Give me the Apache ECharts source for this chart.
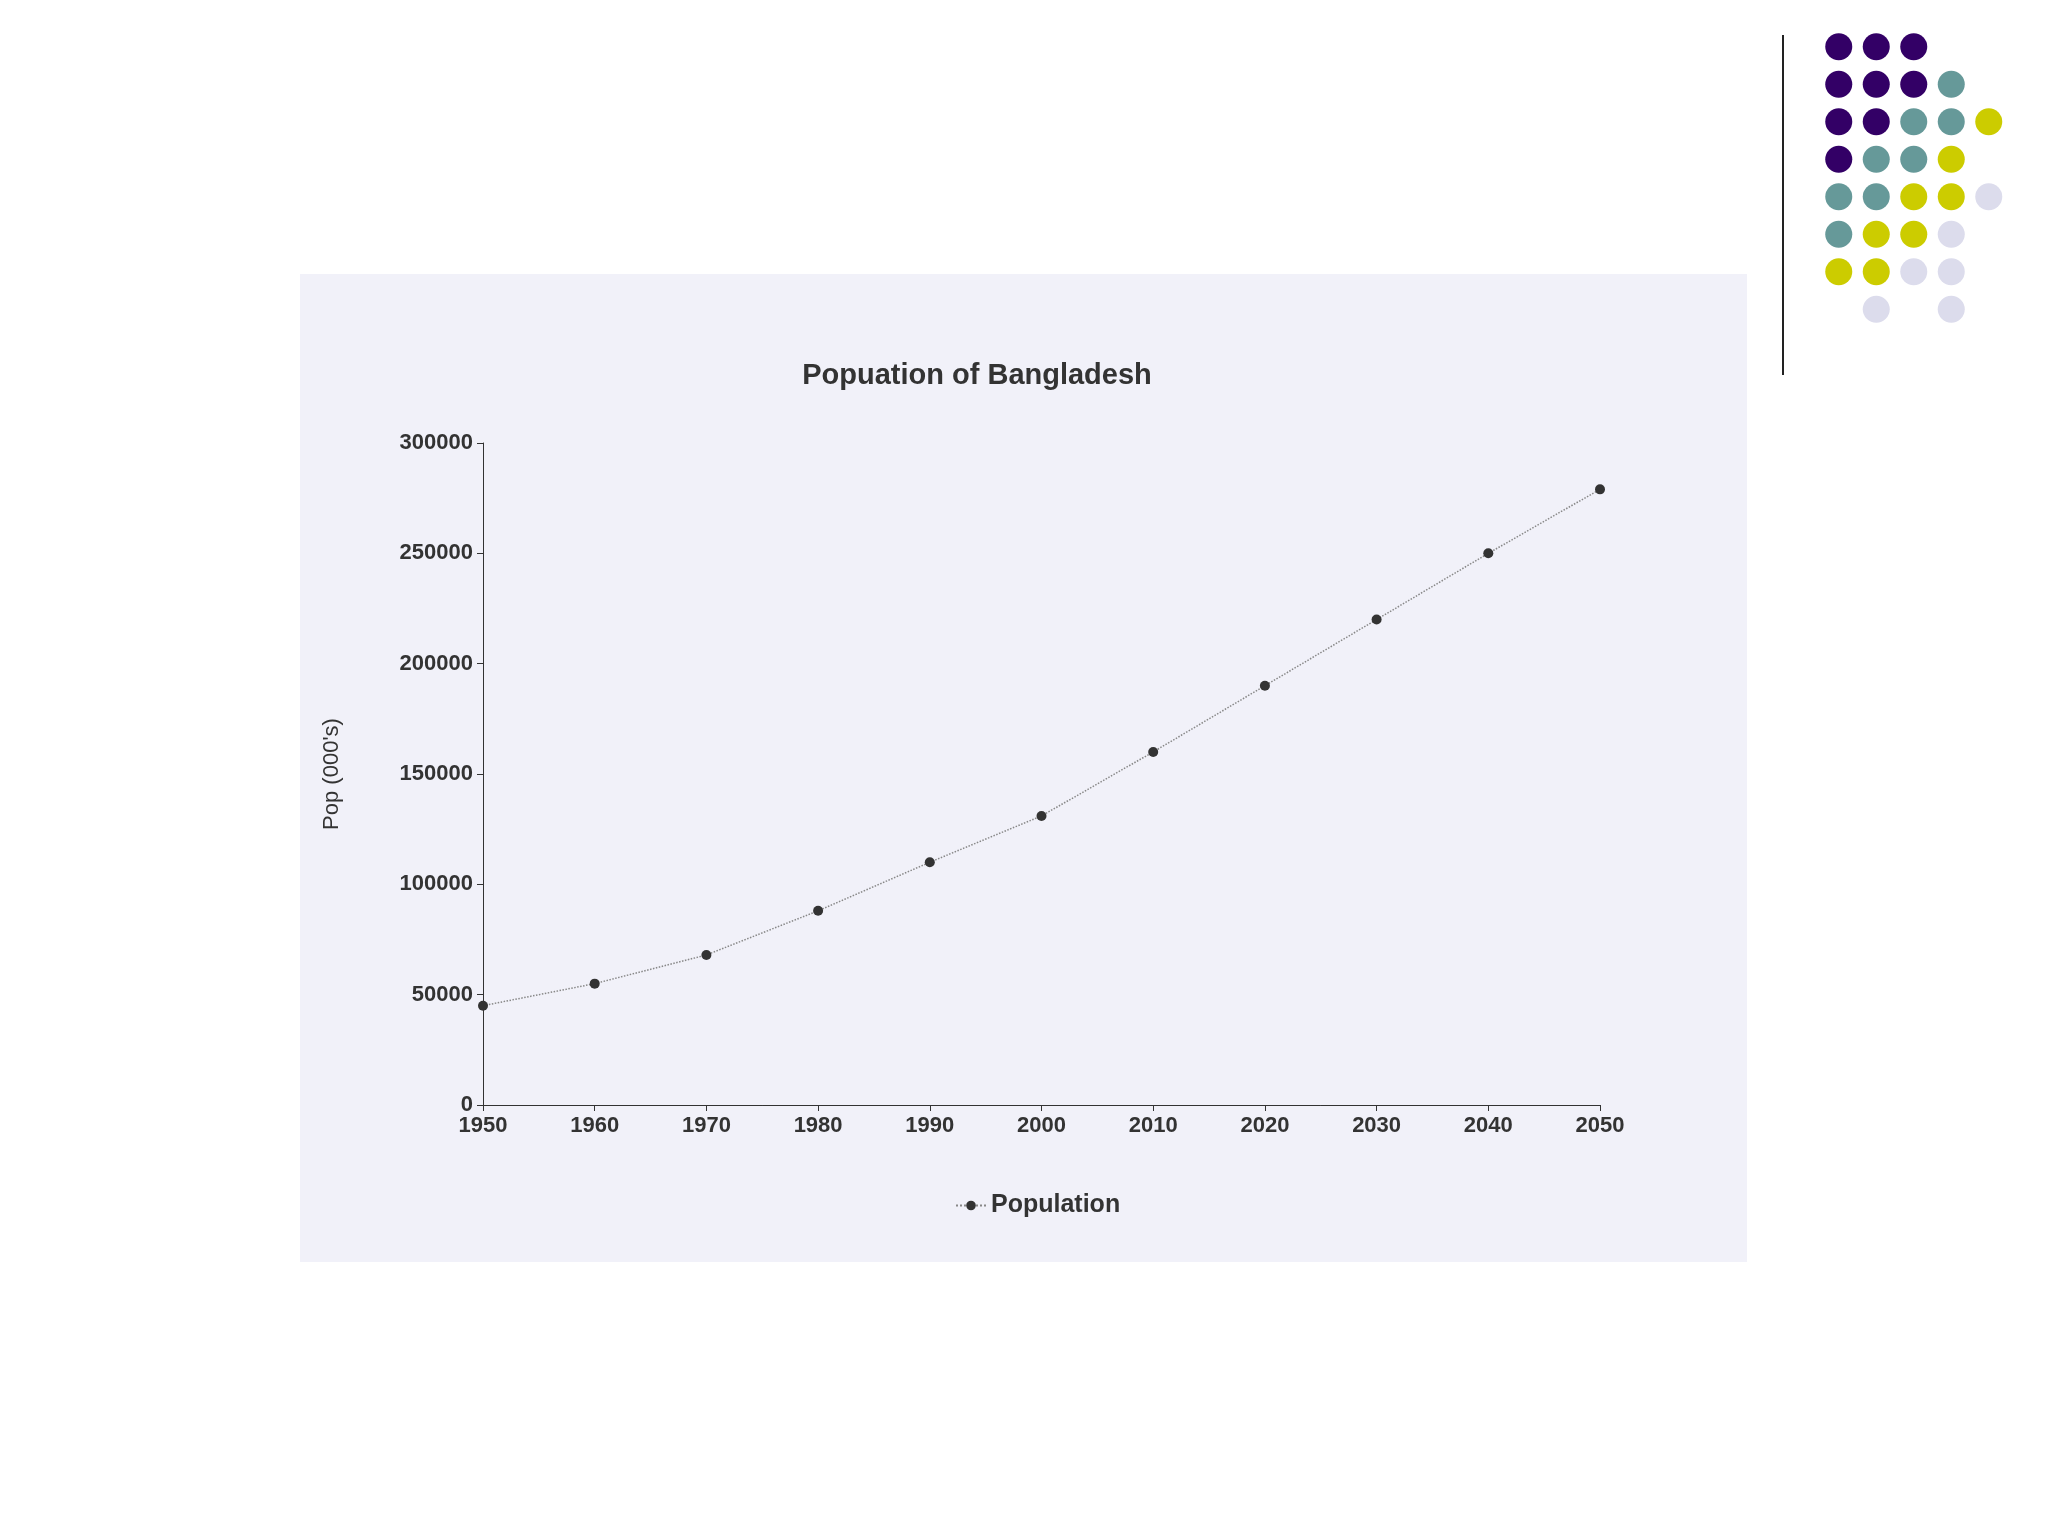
<!DOCTYPE html>
<html>
<head>
<meta charset="utf-8">
<title>Popuation of Bangladesh</title>
<script src="https://cdn.jsdelivr.net/npm/echarts@6/dist/echarts.min.js"></script>
<style>body{margin:0;background:#fff}</style>
</head>
<body>
<div id="main" style="width:2048px;height:1536px;"></div>
<script>
var years = [1950,1960,1970,1980,1990,2000,2010,2020,2030,2040,2050];
var population = [45000,55000,68000,88000,110000,131000,160000,190000,220000,250000,279000];
var yTicks = [0,50000,100000,150000,200000,250000,300000];

// decorative dot grid: [col, row, colourIndex]
var dotColors = ['#330066','#669999','#cccc00','#dcdcec'];
var dots = [
  [0,0,0],[1,0,0],[2,0,0],
  [0,1,0],[1,1,0],[2,1,0],[3,1,1],
  [0,2,0],[1,2,0],[2,2,1],[3,2,1],[4,2,2],
  [0,3,0],[1,3,1],[2,3,1],[3,3,2],
  [0,4,1],[1,4,1],[2,4,2],[3,4,2],[4,4,3],
  [0,5,1],[1,5,2],[2,5,2],[3,5,3],
  [0,6,2],[1,6,2],[2,6,3],[3,6,3],
  [1,7,3],[3,7,3]
];

var chart = echarts.init(document.getElementById('main'));
var font = 'Liberation Sans, Arial, sans-serif';
var plain = function (v) { return String(v); };
chart.setOption({
  animation: false,
  graphic: [
    {type:'rect', shape:{x:300,y:274,width:1447,height:988}, style:{fill:'#f1f1f9'}, z:-10},
    {type:'line', shape:{x1:1783,y1:35,x2:1783,y2:375}, style:{stroke:'#222',lineWidth:2}}
  ],
  title: {text:'Popuation of Bangladesh', left:972, top:356, textAlign:'center',
    textStyle:{fontFamily:font, fontSize:29, fontWeight:'bold', color:'#333'}},
  legend: {top:1188, left:950, itemWidth:30, itemHeight:12,
    textStyle:{fontFamily:font, fontSize:25, fontWeight:'bold', color:'#333'},
    data:['Population']},
  grid: [
    {left:483, right:2048-1600, top:443, height:662},
    {left:1820, width:187.5, top:28, height:300}
  ],
  xAxis: [
    {type:'value', gridIndex:0, min:1950, max:2050, interval:10,
     axisLine:{lineStyle:{color:'#333'}}, axisTick:{length:6,lineStyle:{color:'#333'}},
     splitLine:{show:false},
     axisLabel:{fontFamily:font, fontSize:22, fontWeight:'bold', color:'#333', margin:10, formatter:plain}},
    {type:'value', gridIndex:1, min:-0.5, max:4.5, show:false}
  ],
  yAxis: [
    {type:'value', gridIndex:0, min:0, max:300000, interval:50000,
     name:"Pop (000's)", nameLocation:'middle', nameGap:140,
     nameTextStyle:{fontFamily:font, fontSize:22, color:'#333'},
     axisLine:{show:true, lineStyle:{color:'#333'}},
     axisTick:{show:true, length:6, lineStyle:{color:'#333'}},
     splitLine:{show:false},
     axisLabel:{fontFamily:font, fontSize:22, fontWeight:'bold', color:'#333', margin:10, formatter:plain}},
    {type:'value', gridIndex:1, min:-0.5, max:7.5, inverse:true, show:false}
  ],
  series: [
    {name:'Population', type:'line', xAxisIndex:0, yAxisIndex:0,
     data: years.map(function(y,i){return [y, population[i]];}),
     symbol:'circle', symbolSize:10,
     itemStyle:{color:'#333'},
     lineStyle:{color:'#888', width:1.5, type:'dotted'}},
    {type:'scatter', xAxisIndex:1, yAxisIndex:1, symbolSize:27, silent:true,
     data: dots.map(function(d){return {value:[d[0],d[1]], itemStyle:{color:dotColors[d[2]], opacity:1}};})}
  ]
});
</script>
</body>
</html>
